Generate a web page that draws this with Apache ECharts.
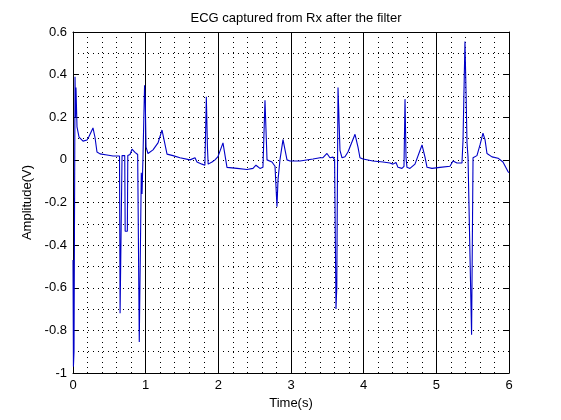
<!DOCTYPE html>
<html>
<head>
<meta charset="utf-8">
<script src="https://cdn.jsdelivr.net/npm/echarts@6/dist/echarts.min.js"></script>
<style>
html,body{margin:0;padding:0;background:#fff;}
#c{width:561px;height:420px;}
</style>
</head>
<body>
<div id="c"></div>
<script>
const titleText = 'ECG captured from Rx after the filter';
const xName = 'Time(s)';
const yName = 'Amplitude(V)';
const xTicks = [0, 1, 2, 3, 4, 5, 6];
const yTicks = [-1, -0.8, -0.6, -0.4, -0.2, 0, 0.2, 0.4, 0.6];

const times = [
  0.000, 0.006, 0.014, 0.028, 0.034, 0.041, 0.055, 0.083, 0.138, 0.193,
  0.220, 0.275, 0.303, 0.330, 0.372, 0.468, 0.550, 0.640, 0.648, 0.668,
  0.675, 0.712, 0.718, 0.748, 0.754, 0.785, 0.812, 0.853, 0.890, 0.905,
  0.912, 0.935, 0.940, 0.950, 0.962, 0.985, 0.995, 1.005, 1.032, 1.101,
  1.170, 1.225, 1.294, 1.376, 1.472, 1.610, 1.679, 1.706, 1.775, 1.815,
  1.835, 1.850, 1.860, 1.913, 1.954, 1.995, 2.064, 2.119, 2.257, 2.394,
  2.477, 2.518, 2.573, 2.614, 2.642, 2.670, 2.738, 2.780, 2.807, 2.821,
  2.848, 2.890, 2.945, 2.986, 3.124, 3.303, 3.399, 3.440, 3.495, 3.536,
  3.578, 3.600, 3.619, 3.630, 3.647, 3.674, 3.702, 3.743, 3.784, 3.881,
  3.922, 3.949, 3.991, 4.128, 4.266, 4.362, 4.403, 4.445, 4.472, 4.527,
  4.555, 4.569, 4.583, 4.596, 4.637, 4.706, 4.803, 4.844, 4.872, 4.940,
  5.050, 5.188, 5.229, 5.284, 5.353, 5.367, 5.394, 5.410, 5.422, 5.436,
  5.463, 5.485, 5.498, 5.505, 5.559, 5.601, 5.642, 5.670, 5.697, 5.766,
  5.849, 5.917, 5.986, 6.000
];
const amps = [
  -0.47, -0.97, -0.90, 0.39, 0.20, 0.34, 0.155, 0.107, 0.088, 0.093,
  0.110, 0.150, 0.105, 0.037, 0.028, 0.023, 0.018, 0.018, -0.72, -0.72,
  0.020, 0.020, -0.335, -0.335, 0.020, 0.025, 0.050, 0.035, 0.025, 0.020,
  -0.855, -0.86, -0.06, -0.16, 0.0, 0.35, 0.27, 0.06, 0.03, 0.047,
  0.08, 0.14, 0.027, 0.02, 0.01, 0.0, 0.01, -0.01, -0.02, -0.025,
  0.296, 0.06, -0.02, -0.01, 0.0, 0.015, 0.08, -0.035, -0.04, -0.045,
  -0.04, -0.025, -0.04, -0.035, 0.28, 0.0, -0.01, -0.03, -0.22, -0.095,
  0.0, 0.095, 0.0, -0.005, -0.005, 0.004, 0.01, 0.01, 0.03, 0.01,
  0.013, 0.0, -0.70, -0.60, 0.34, 0.045, 0.01, 0.015, 0.037, 0.12,
  0.06, 0.01, 0.004, -0.005, -0.01, -0.015, -0.02, -0.012, -0.035, -0.04,
  -0.03, 0.285, 0.01, -0.035, -0.04, -0.02, 0.07, 0.013, -0.035, -0.04,
  -0.035, -0.03, -0.005, -0.015, -0.015, 0.09, 0.555, 0.30, 0.08, 0.014,
  0.01, -0.82, -0.82, 0.01, 0.02, 0.07, 0.125, 0.095, 0.03, 0.014,
  0.008, -0.01, -0.055, -0.06
];

const seriesData = times.map((t, i) => [t, amps[i]]);
const FONT = 'Liberation Sans, Arial, sans-serif';
const dotted = { color: '#000', width: 1, type: [1, 4] };

const chart = echarts.init(document.getElementById('c'), null, { renderer: 'canvas' });
chart.setOption({
  animation: false,
  backgroundColor: '#fff',
  title: {
    text: titleText, left: 291, top: 7, textAlign: 'center',
    textStyle: { fontFamily: FONT, fontSize: 13, fontWeight: 'normal', color: '#000' }
  },
  grid: { left: 73, right: 52, top: 32, bottom: 47, containLabel: false },
  xAxis: [{
    type: 'value', min: xTicks[0], max: xTicks[xTicks.length - 1], interval: 1,
    name: xName, nameLocation: 'middle', nameGap: 24,
    nameTextStyle: { fontFamily: FONT, fontSize: 13, color: '#000' },
    axisLine: { show: true, onZero: false, lineStyle: { color: '#000', width: 1 } },
    axisTick: { show: true, inside: true, length: 5, lineStyle: { color: '#000' } },
    axisLabel: { fontFamily: FONT, fontSize: 13, color: '#000', margin: 6 },
    splitLine: { show: true, lineStyle: { color: '#000', width: 1 } },
    minorTick: { show: false, splitNumber: 5 },
    minorSplitLine: { show: true, lineStyle: dotted }
  }, {
    type: 'value', position: 'top', min: xTicks[0], max: xTicks[xTicks.length - 1], interval: 1,
    axisLine: { show: true, onZero: false, lineStyle: { color: '#000', width: 1 } },
    axisTick: { show: true, inside: true, length: 5, lineStyle: { color: '#000' } },
    axisLabel: { show: false }, splitLine: { show: false }
  }],
  yAxis: [{
    type: 'value', min: yTicks[0], max: yTicks[yTicks.length - 1], interval: 0.2,
    name: yName, nameLocation: 'middle', nameGap: 33,
    nameTextStyle: { fontFamily: FONT, fontSize: 13, color: '#000' },
    axisLine: { show: true, onZero: false, lineStyle: { color: '#000', width: 1 } },
    axisTick: { show: true, inside: true, length: 5, lineStyle: { color: '#000' } },
    axisLabel: { fontFamily: FONT, fontSize: 13, color: '#000', margin: 6,
      formatter: v => String(+v.toFixed(1)) },
    splitLine: { show: true, lineStyle: dotted },
    minorTick: { show: false, splitNumber: 2 },
    minorSplitLine: { show: true, lineStyle: dotted }
  }, {
    type: 'value', position: 'right', min: yTicks[0], max: yTicks[yTicks.length - 1], interval: 0.2,
    axisLine: { show: true, onZero: false, lineStyle: { color: '#000', width: 1 } },
    axisTick: { show: true, inside: true, length: 5, lineStyle: { color: '#000' } },
    axisLabel: { show: false }, splitLine: { show: false }
  }],
  series: [{
    type: 'line', xAxisIndex: 0, yAxisIndex: 0,
    data: seriesData, showSymbol: false, symbol: 'none',
    lineStyle: { color: '#0000c8', width: 1.1 },
    z: 5
  }]
});
</script>
</body>
</html>
